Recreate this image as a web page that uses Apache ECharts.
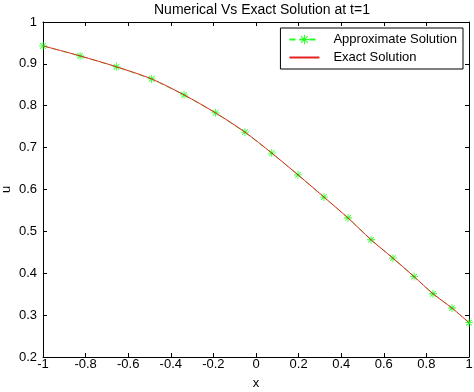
<!DOCTYPE html>
<html>
<head>
<meta charset="utf-8">
<script src="https://cdn.jsdelivr.net/npm/echarts@6/dist/echarts.min.js"></script>
<style>
html,body{margin:0;padding:0;background:#fff;}
#chart{width:474px;height:392px;}
</style>
</head>
<body>
<div id="chart"></div>
<script>
var xValues = [-1.0, -0.826, -0.655, -0.49, -0.338, -0.19, -0.052, 0.074, 0.197, 0.319, 0.432, 0.54, 0.643, 0.742, 0.831, 0.92, 1.0];
var approxValues = [0.943, 0.919, 0.893, 0.864, 0.826, 0.783, 0.737, 0.687, 0.635, 0.582, 0.532, 0.48, 0.436, 0.392, 0.351, 0.317, 0.282];
var exactValues = [0.943, 0.919, 0.893, 0.864, 0.826, 0.783, 0.737, 0.687, 0.635, 0.582, 0.532, 0.48, 0.436, 0.392, 0.351, 0.317, 0.282];
var xTicks = { min: -1, max: 1, interval: 0.2 };
var yTicks = { min: 0.2, max: 1, interval: 0.1 };

var font = '"Liberation Sans", Arial, Helvetica, sans-serif';
var star = 'path://M0 9H20V11H0Z M9 0H11V20H9Z M2.2 3.6L3.6 2.2L17.8 16.4L16.4 17.8Z M16.4 2.2L17.8 3.6L3.6 17.8L2.2 16.4Z';

function pairs(xs, ys) { return xs.map(function (x, i) { return [x, ys[i]]; }); }

var chart = echarts.init(document.getElementById('chart'), null, { renderer: 'canvas' });
var axisCommon = {
  axisLine: { show: true, onZero: false, lineStyle: { color: '#000', width: 1 } },
  axisTick: { show: true, inside: true, length: 4, lineStyle: { color: '#000' } },
  splitLine: { show: false }
};
chart.setOption({
  backgroundColor: '#fff',
  animation: false,
  title: {
    text: 'Numerical Vs Exact Solution at t=1',
    left: 154, top: 3, padding: 0,
    textStyle: { fontFamily: font, fontSize: 14, fontWeight: 'normal', color: '#000' }
  },
  grid: { left: 43, right: 5, top: 22, bottom: 35, containLabel: false, outerBoundsMode: 'none' },
  legend: {
    orient: 'vertical',
    right: 11, top: 28,
    backgroundColor: '#fff',
    borderColor: '#000', borderWidth: 1, borderRadius: 0,
    padding: [5, 6, 5, 8],
    itemWidth: 30, itemHeight: 12, itemGap: 5,
    textStyle: { fontFamily: font, fontSize: 13, color: '#000', padding: [0, 0, 0, 9] },
    data: [
      { name: 'Approximate Solution' },
      { name: 'Exact Solution', itemStyle: { opacity: 0 } }
    ]
  },
  xAxis: [
    Object.assign({}, axisCommon, {
      type: 'value', position: 'bottom', min: xTicks.min, max: xTicks.max, interval: xTicks.interval,
      name: 'x', nameLocation: 'middle', nameGap: 20,
      nameTextStyle: { fontFamily: font, fontSize: 13, color: '#000' },
      axisLabel: { fontFamily: font, fontSize: 13, color: '#000', margin: 1 }
    }),
    Object.assign({}, axisCommon, {
      type: 'value', position: 'top', min: xTicks.min, max: xTicks.max, interval: xTicks.interval,
      axisLabel: { show: false }
    })
  ],
  yAxis: [
    Object.assign({}, axisCommon, {
      type: 'value', position: 'left', min: yTicks.min, max: yTicks.max, interval: yTicks.interval,
      name: 'u', nameLocation: 'middle', nameGap: 30, nameRotate: 90, nameMoveOverlap: false,
      nameTextStyle: { fontFamily: font, fontSize: 13, color: '#000' },
      axisLabel: { fontFamily: font, fontSize: 13, color: '#000', margin: 6 }
    }),
    Object.assign({}, axisCommon, {
      type: 'value', position: 'right', min: yTicks.min, max: yTicks.max, interval: yTicks.interval,
      axisLabel: { show: false }
    })
  ],
  series: [
    {
      name: 'Approximate Solution', type: 'line', xAxisIndex: 0, yAxisIndex: 0,
      data: pairs(xValues, approxValues),
      symbol: star, symbolSize: 8, showAllSymbol: true,
      itemStyle: { color: '#22ff22' },
      lineStyle: { color: '#22ff22', width: 1, type: [6, 4] },
      z: 2
    },
    {
      name: 'Exact Solution', type: 'line', xAxisIndex: 0, yAxisIndex: 0,
      data: pairs(xValues, exactValues),
      symbol: 'none', smooth: 0.3,
      itemStyle: { color: '#e52222' },
      lineStyle: { color: '#e52222', width: 1 },
      z: 3
    }
  ]
});
</script>
</body>
</html>
